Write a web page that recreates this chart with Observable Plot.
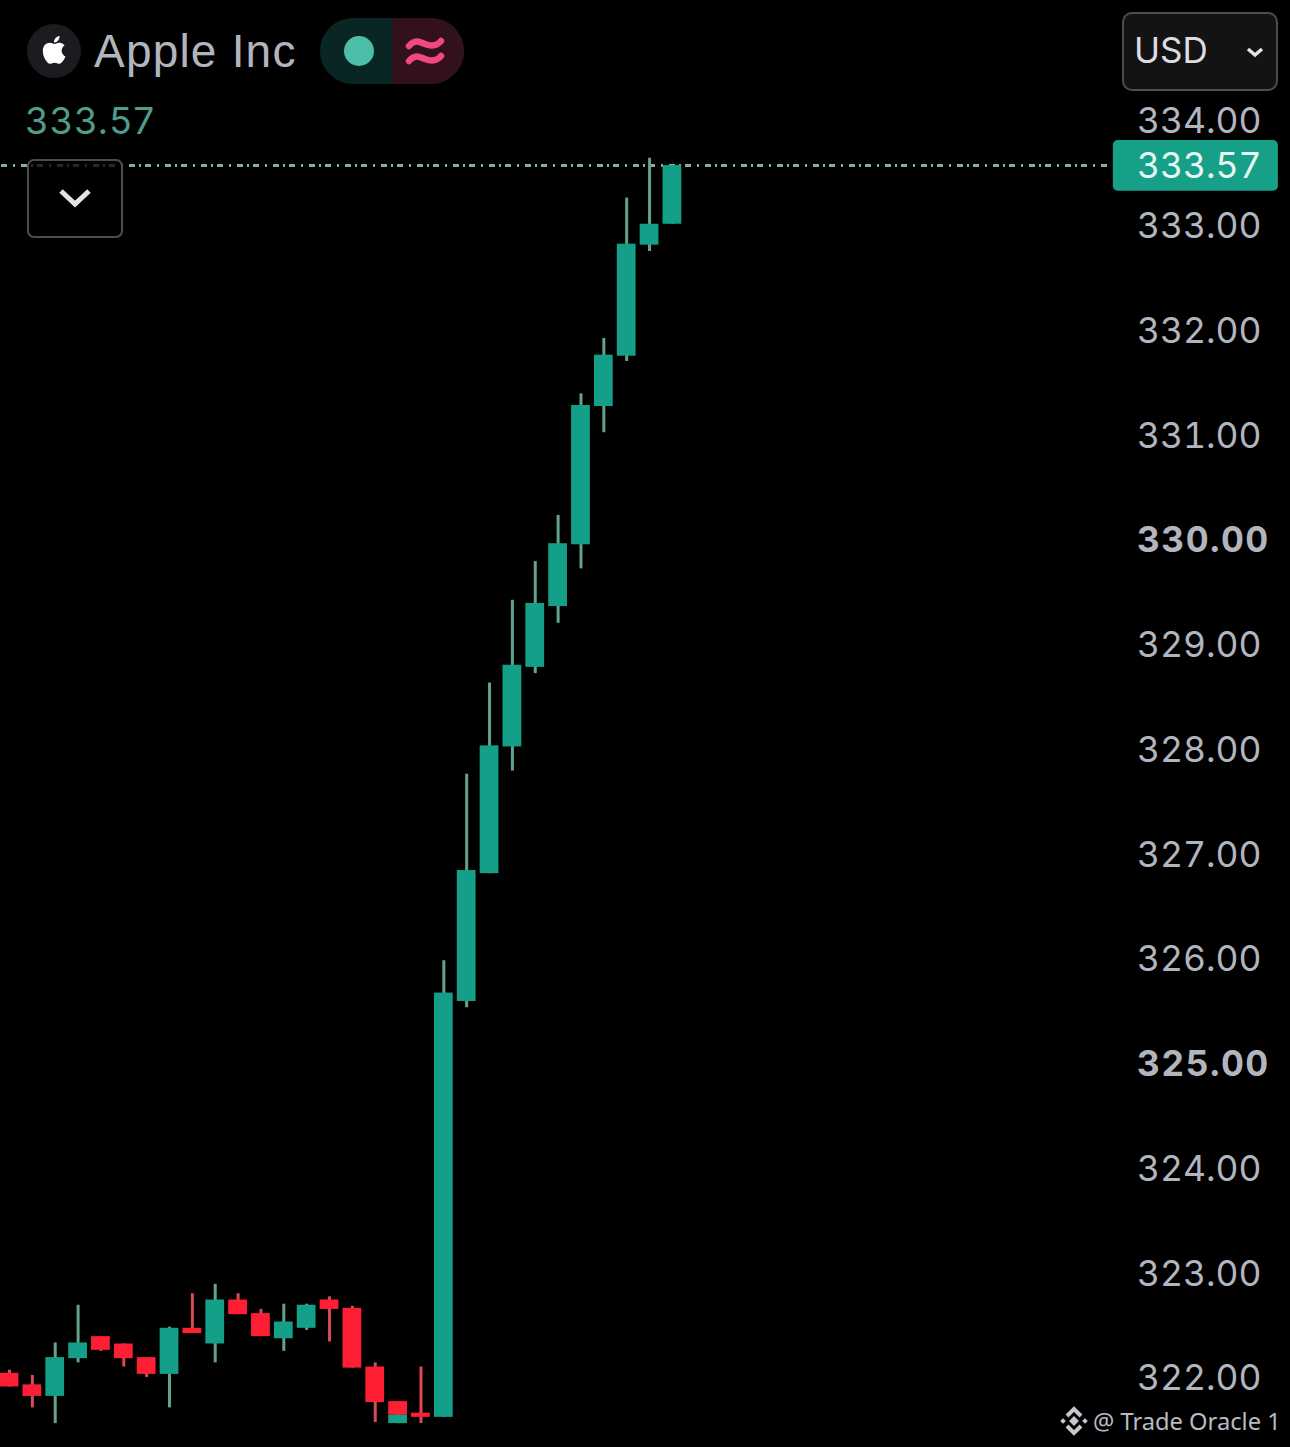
<!DOCTYPE html>
<html>
<head>
<meta charset="utf-8">
<script src="https://cdn.jsdelivr.net/npm/d3@7"></script>
<script src="https://cdn.jsdelivr.net/npm/@observablehq/plot@0.6"></script>
<style>
html,body{margin:0;padding:0;background:#000;width:1290px;height:1447px;overflow:hidden}
#wrap{position:relative;width:1290px;height:1447px;font-family:Inter,sans-serif}
#chart svg{display:block;background:#000;overflow:visible}
#chart g[font-weight="700"] text{letter-spacing:1.4px}
.abs{position:absolute;white-space:nowrap}
</style>
</head>
<body>
<div id="wrap">
<div id="chart"></div>
<div class="abs" style="left:27px;top:24px;width:54px;height:54px;border-radius:50%;background:#1b1c20"></div>
<svg class="abs" style="left:41px;top:36px" width="26" height="28" viewBox="0 0 814 1000"><path fill="#fff" d="M788 341c-6 4-107 61-107 188 0 147 129 199 133 200-1 3-21 71-68 141-42 61-87 123-154 123s-85-39-163-39c-76 0-103 40-164 40s-104-57-154-126C53 787 7 660 7 540c0-193 125-295 249-295 66 0 121 43 162 43 39 0 101-46 176-46 29 0 131 3 194 99zM554 160c31-37 53-88 53-139 0-7-1-14-2-20-50 2-110 33-146 75-28 32-55 83-55 135 0 8 1 16 2 18 3 1 9 2 14 2 45 0 102-30 134-71z"/></svg>
<div class="abs" style="left:94px;top:23px;font-size:46px;line-height:56px;letter-spacing:1.2px;color:#b2b5be;font-family:'Liberation Sans',sans-serif">Apple Inc</div>
<div class="abs" style="left:320px;top:18px;width:144px;height:66px;border-radius:33px;overflow:hidden;background:#0a2624">
  <div class="abs" style="left:72px;top:0;width:72px;height:66px;background:#32101c"></div>
  <div class="abs" style="left:24px;top:18px;width:30px;height:30px;border-radius:50%;background:#4dbfa8"></div>
  <svg class="abs" style="left:85px;top:18px" width="40" height="30" viewBox="0 0 40 30"><path d="M4 10 C10 3 15 6 20 8 S31 11 36 5 M4 25 C10 18 15 21 20 23 S31 26 36 20" fill="none" stroke="#f0487f" stroke-width="6.5" stroke-linecap="round"/></svg>
</div>
<div class="abs" style="left:25px;top:98px;font-size:37px;line-height:46px;letter-spacing:1.6px;color:#4e9c8a">333.57</div>
<div class="abs" style="left:27px;top:159px;width:92px;height:75px;border:2px solid #4d4d4d;border-radius:7px;background:rgba(0,0,0,.75)"></div>
<svg class="abs" style="left:56px;top:187px" width="40" height="26" viewBox="0 0 40 26"><path d="M5 4 L19 17 L33 4" fill="none" stroke="#e4e4e4" stroke-width="5"/></svg>
<div class="abs" style="left:1122px;top:12px;width:152px;height:75px;border:2.5px solid #4d4d4d;border-radius:10px;background:#131313"></div>
<div class="abs" style="left:1134px;top:28px;font-size:35px;line-height:44px;color:#dddde0">USD</div>
<svg class="abs" style="left:1244px;top:44px" width="22" height="16" viewBox="0 0 22 16"><path d="M4 5 L11 11 L18 5" fill="none" stroke="#e4e4e4" stroke-width="3.5"/></svg>
<svg class="abs" style="left:1059px;top:1406px" width="30" height="30" viewBox="0 0 30 30"><g fill="none" stroke="#c6c8cf" stroke-width="4"><path d="M8 10 L15 3 L22 10"/><path d="M8 20 L15 27 L22 20"/></g><g fill="#c6c8cf"><rect x="11.5" y="11.5" width="7" height="7" transform="rotate(45 15 15)"/><rect x="2" y="13" width="4" height="4" transform="rotate(45 4 15)"/><rect x="24" y="13" width="4" height="4" transform="rotate(45 26 15)"/></g></svg>
<div class="abs" style="left:1093px;top:1405px;font-size:23.7px;line-height:32px;color:#b9bbc2;font-family:'Noto Sans',sans-serif">@ Trade Oracle 1</div>
</div>
<script>
const slots   = [0,1,2,3,4,5,6,7,8,9,10,11,12,13,14,15,16,17,17,18,19,20,21,22,23,24,25,26,27,28,29];
const opens   = [322.04,321.93,321.82,322.18,322.39,322.32,322.19,322.03,322.47,322.32,322.74,322.61,322.37,322.47,322.74,322.66,322.10,321.77,321.56,321.66,321.62,325.59,326.81,328.02,328.78,329.36,329.95,331.27,331.75,332.81,333.01];
const closes  = [321.91,321.82,322.19,322.33,322.26,322.18,322.03,322.47,322.42,322.74,322.60,322.39,322.53,322.69,322.65,322.09,321.76,321.64,321.64,321.62,325.67,326.84,328.03,328.80,329.39,329.96,331.28,331.76,332.82,333.01,333.57];
const highs   = [322.07,322.02,322.33,322.69,322.39,322.32,322.19,322.48,322.80,322.89,322.80,322.65,322.70,322.70,322.77,322.68,322.14,321.77,321.64,322.10,325.98,327.76,328.63,329.42,329.79,330.23,331.39,331.92,333.26,333.64,333.57];
const lows    = [321.91,321.71,321.56,322.14,322.25,322.10,322.00,321.71,322.42,322.14,322.60,322.39,322.25,322.45,322.34,322.09,321.57,321.56,321.56,321.56,321.62,325.53,326.81,327.79,328.72,329.20,329.72,331.02,331.70,332.75,333.01];

const regularTicks = [322,323,324,326,327,328,329,331,332,333,334];
const boldTicks = [325,330];
const lastPrice = [333.57];

const up = "#14a088", down = "#ff1f35", upWick = "#63a28f", downWick = "#d84a55";
const candles = slots.map((slot,i)=>({slot,open:opens[i],close:closes[i],high:highs[i],low:lows[i],rising:closes[i]>=opens[i]}));
const halfBody = 0.41;
const axisFont = {fontSize:35.5, fill:"#b2b5be", tickSize:0, tickPadding:0, textAnchor:"start", label:null, tickFormat:d=>d.toFixed(2), fontFamily:"Inter, sans-serif", dx:-1.5, dy:1.5};

const plot = Plot.plot({
  width:1290, height:1447,
  marginLeft:0, marginRight:152, marginTop:0, marginBottom:0,
  style:{background:"#000", fontFamily:"Inter, sans-serif", overflow:"visible"},
  x:{domain:[-0.394,49.39], axis:null},
  y:{domain:[321.332,335.146], axis:null},
  marks:[
    Plot.ruleY(lastPrice,{x1:-0.394,x2:48.07,stroke:"#7fb0a6",strokeWidth:3,strokeDasharray:"6 4 2 4 6 6 2 6",strokeDashoffset:15}),
    Plot.ruleX(candles,{x:"slot",y1:"low",y2:"high",stroke:d=>d.rising?upWick:downWick,strokeWidth:3}),
    Plot.rect(candles,{x1:d=>d.slot-halfBody,x2:d=>d.slot+halfBody,y1:"open",y2:"close",fill:d=>d.rising?up:down}),
    Plot.rect(lastPrice,{x1:48.29,x2:55.51,y1:d=>d+0.24,y2:d=>d-0.245,fill:"#16a088",rx:5}),
    Plot.axisY(regularTicks,{anchor:"right",...axisFont}),
    Plot.axisY(boldTicks,{anchor:"right",...axisFont,fontWeight:700}),
    Plot.axisY(lastPrice,{anchor:"right",...axisFont,fill:"#e6f7f3"})
  ]
});
document.getElementById("chart").appendChild(plot);
</script>
</body>
</html>
